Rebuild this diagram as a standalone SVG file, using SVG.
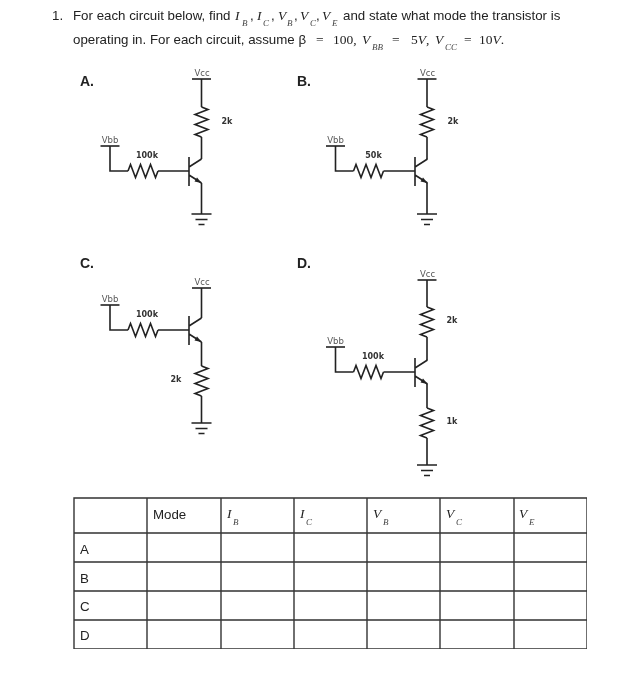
<svg xmlns="http://www.w3.org/2000/svg" width="621" height="700" viewBox="0 0 621 700">
<style>
.w{fill:none;stroke:#222;stroke-width:1.6;stroke-linejoin:miter}
.grid{fill:none;stroke:#333;stroke-width:1.4}
.t{font-family:"Liberation Sans",Arial,sans-serif;font-size:13.3px;fill:#222}
.h{font-family:"Liberation Sans",Arial,sans-serif;font-size:14px;font-weight:bold;fill:#222}
.v{font-family:"DejaVu Sans",sans-serif;font-size:8.5px;fill:#555;text-anchor:middle}
.k{font-family:"DejaVu Sans",sans-serif;font-size:8px;font-weight:bold;fill:#333;text-anchor:middle}
.m{font-family:"Liberation Serif",serif;font-style:italic;font-size:13.5px;fill:#222}
.s{font-family:"Liberation Serif",serif;font-style:italic;font-size:9px;fill:#444}
.n{font-family:"Liberation Serif",serif;font-size:13.5px;fill:#222}
</style>
<defs>
<filter id="soft" x="0" y="0" width="100%" height="100%"><feGaussianBlur stdDeviation="0.3"/></filter>
<path id="rv" class="w" d="M0 0L6.500 2.500L-6.500 7.500L6.500 12.500L-6.500 17.500L6.500 22.500L-6.500 27.500L0 30"/>
<path id="rh" class="w" d="M0 0L2.500 -6.500L7.500 6.500L12.500 -6.500L17.500 6.500L22.500 -6.500L27.500 6.500L30 0"/>
<g id="q"><path class="w" d="M0 -14V15M0 -4L12.500 -12M0 4L12.500 12"/><path d="M12.500 12L5.500 10.500L8 6.500Z" fill="#222"/></g>
<path id="gnd" class="w" d="M-10 0H10M-6 5.500H6M-3 10.500H3"/>
<path id="rail" class="w" d="M-9.500 0H9.500"/>
</defs>
<rect width="621" height="700" fill="#fff"/>
<g filter="url(#soft)">
<g id="problem-text">
<text class="t" x="52" y="20">1.</text>
<text class="t" x="73" y="20">For each circuit below, find</text>
<text class="m" x="235" y="20">I</text><text class="s" x="242" y="26">B</text><text class="t" x="250" y="20">,</text>
<text class="m" x="257" y="20">I</text><text class="s" x="263" y="26">C</text><text class="t" x="271" y="20">,</text>
<text class="m" x="278" y="20">V</text><text class="s" x="287" y="26">B</text><text class="t" x="294" y="20">,</text>
<text class="m" x="300" y="20">V</text><text class="s" x="310" y="26">C</text><text class="t" x="316" y="20">,</text>
<text class="m" x="322" y="20">V</text><text class="s" x="332" y="26">E</text>
<text class="t" x="343" y="20">and state what mode the transistor is</text>
<text class="t" x="73" y="44">operating in. For each circuit, assume β</text>
<text class="n" x="316" y="44">=</text><text class="n" x="333" y="44">100,</text>
<text class="m" x="362" y="44">V</text><text class="s" x="372" y="50">BB</text>
<text class="n" x="392" y="44">=</text><text class="n" x="411" y="44">5<tspan font-style="italic">V</tspan>,</text>
<text class="m" x="435" y="44">V</text><text class="s" x="445" y="50">CC</text>
<text class="n" x="464" y="44">=</text><text class="n" x="479" y="44">10<tspan font-style="italic">V</tspan>.</text>
<text class="h" x="80" y="86">A.</text>
<text class="h" x="297" y="86">B.</text>
<text class="h" x="80" y="268">C.</text>
<text class="h" x="297" y="268">D.</text>
</g>

<g id="connectors">
<path class="w" d="M201.500 79V107M201.500 137V159M201.500 183V214M110 146V171H128M158 171H189"/>
<path class="w" d="M427 79V107M427 137V159M427 183V214M335.500 146V171H353.500M383.500 171H415"/>
<path class="w" d="M201.500 288V318M201.500 342V366M201.500 396V423M110 305V330H128M158 330H189"/>
<path class="w" d="M427 280V307M427 337V360M427 384V408M427 438V465M335.500 347V372H353.500M383.500 372H415"/>
</g>

<g id="A-vcc"><use href="#rail" x="201.500" y="79"/><text class="v" x="202" y="76">Vcc</text></g>
<g id="A-rc"><use href="#rv" x="201.500" y="107"/><text class="k" x="227" y="124">2k</text></g>
<g id="A-q"><use href="#q" x="189" y="171"/></g>
<g id="A-vbb"><use href="#rail" x="110" y="146"/><text class="v" x="110" y="143">Vbb</text></g>
<g id="A-rb"><use href="#rh" x="128" y="171"/><text class="k" x="147" y="158">100k</text></g>
<g id="A-gnd"><use href="#gnd" x="201.500" y="214"/></g>

<g id="B-vcc"><use href="#rail" x="427" y="79"/><text class="v" x="427.500" y="76">Vcc</text></g>
<g id="B-rc"><use href="#rv" x="427" y="107"/><text class="k" x="453" y="124">2k</text></g>
<g id="B-q"><use href="#q" x="415" y="171"/></g>
<g id="B-vbb"><use href="#rail" x="335.500" y="146"/><text class="v" x="335.500" y="143">Vbb</text></g>
<g id="B-rb"><use href="#rh" x="353.500" y="171"/><text class="k" x="373.500" y="158">50k</text></g>
<g id="B-gnd"><use href="#gnd" x="427" y="214"/></g>

<g id="C-vcc"><use href="#rail" x="201.500" y="288"/><text class="v" x="202" y="285">Vcc</text></g>
<g id="C-q"><use href="#q" x="189" y="330"/></g>
<g id="C-vbb"><use href="#rail" x="110" y="305"/><text class="v" x="110" y="302">Vbb</text></g>
<g id="C-rb"><use href="#rh" x="128" y="330"/><text class="k" x="147" y="317">100k</text></g>
<g id="C-re"><use href="#rv" x="201.500" y="366"/><text class="k" x="176" y="382">2k</text></g>
<g id="C-gnd"><use href="#gnd" x="201.500" y="423"/></g>

<g id="D-vcc"><use href="#rail" x="427" y="280"/><text class="v" x="427.500" y="277">Vcc</text></g>
<g id="D-rc"><use href="#rv" x="427" y="307"/><text class="k" x="452" y="323">2k</text></g>
<g id="D-q"><use href="#q" x="415" y="372"/></g>
<g id="D-vbb"><use href="#rail" x="335.500" y="347"/><text class="v" x="335.500" y="344">Vbb</text></g>
<g id="D-rb"><use href="#rh" x="353.500" y="372"/><text class="k" x="373" y="359">100k</text></g>
<g id="D-re"><use href="#rv" x="427" y="408"/><text class="k" x="452" y="424">1k</text></g>
<g id="D-gnd"><use href="#gnd" x="427" y="465"/></g>

<g id="table">
<path class="grid" d="M74 498H587V649H74ZM74 533H587M74 562H587M74 591H587M74 620H587M147 498V649M221 498V649M294 498V649M367 498V649M440 498V649M514 498V649"/>
<text class="t" x="153" y="519">Mode</text>
<text class="m" x="227" y="518">I</text><text class="s" x="233" y="525">B</text>
<text class="m" x="300" y="518">I</text><text class="s" x="306" y="525">C</text>
<text class="m" x="373" y="518">V</text><text class="s" x="383" y="525">B</text>
<text class="m" x="446" y="518">V</text><text class="s" x="456" y="525">C</text>
<text class="m" x="519" y="518">V</text><text class="s" x="529" y="525">E</text>
<text class="t" x="80" y="554">A</text>
<text class="t" x="80" y="583">B</text>
<text class="t" x="80" y="611">C</text>
<text class="t" x="80" y="640">D</text>
</g>
</g>
</svg>
